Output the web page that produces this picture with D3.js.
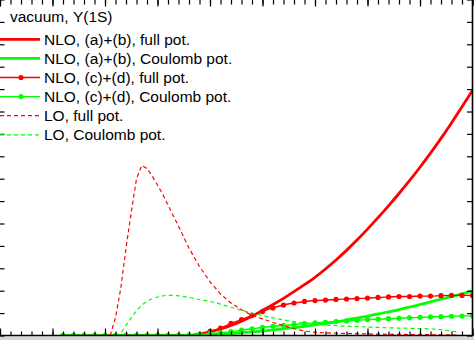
<!DOCTYPE html>
<html>
<head>
<meta charset="utf-8">
<script src="https://cdn.jsdelivr.net/npm/d3@7"></script>
<style>
  body { margin: 0; background: #fff; }
  svg { display: block; }
  text { font-family: "Liberation Sans", Arial, Helvetica, sans-serif; }
</style>
</head>
<body>
<svg id="chart" width="474" height="340"></svg>
<script>
// ---- data ----
// NLO curves share one grid (markers every 0.2)
const xNLO = [1.2, 1.4, 1.6, 1.8, 2.0, 2.2, 2.4, 2.6, 2.8, 3.0, 3.2, 3.4,
              3.6, 3.8, 4.0, 4.2, 4.4, 4.6, 4.8, 5.0, 5.2, 5.4, 5.6, 5.8,
              6.0, 6.2, 6.4, 6.6, 6.8, 7.0, 7.2, 7.4, 7.6, 7.8, 8.0, 8.2,
              8.4, 8.6, 8.8, 9.0];
const nloAbFull = [0, 0, 0, 0, 0, 0, 0, 0, 0, 0, 0, 0,
                   0.0, 0.06, 0.16, 0.29, 0.45, 0.64, 0.86, 1.12, 1.38, 1.66, 1.96, 2.27,
                   2.60, 2.97, 3.37, 3.80, 4.26, 4.75, 5.26, 5.79, 6.34, 6.91, 7.51, 8.14,
                   8.80, 9.49, 10.21, 10.94];
const nloAbCoulomb = [0, 0, 0, 0, 0, 0, 0, 0, 0, 0, 0, 0,
                      0.0, 0.02, 0.04, 0.065, 0.09, 0.12, 0.16, 0.20, 0.25, 0.30, 0.35, 0.41,
                      0.47, 0.54, 0.61, 0.69, 0.78, 0.87, 0.96, 1.06, 1.16, 1.27, 1.38, 1.50,
                      1.62, 1.74, 1.86, 1.98];
const nloCdFull = [0, 0, 0, 0, 0, 0, 0, 0, 0, 0, 0, 0,
                   0.0, 0.05, 0.18, 0.33, 0.54, 0.71, 0.89, 1.07, 1.23, 1.36, 1.45, 1.52,
                   1.56, 1.58, 1.61, 1.63, 1.65, 1.67, 1.70, 1.72, 1.74, 1.74, 1.76, 1.76,
                   1.78, 1.79, 1.79, 1.79];
const nloCdCoulomb = [0, 0, 0, 0, 0, 0, 0, 0, 0.01, 0.01, 0.01, 0.01,
                      0.02, 0.05, 0.08, 0.12, 0.17, 0.24, 0.30, 0.36, 0.41, 0.45, 0.49, 0.53,
                      0.56, 0.59, 0.62, 0.65, 0.68, 0.71, 0.73, 0.75, 0.77, 0.79, 0.81, 0.83,
                      0.84, 0.86, 0.87, 0.88];

// LO curves
const xLOFull = [2.1, 2.2, 2.3, 2.4, 2.5, 2.6, 2.7, 2.8, 2.9, 3.0, 3.1, 3.2, 3.3, 3.4,
                 3.6, 3.8, 4.0, 4.2, 4.4, 4.6, 4.8, 5.0, 5.2, 5.4, 5.6, 5.8, 6.0,
                 6.4, 6.8, 7.2, 7.6, 8.0, 8.4, 8.7];
const loFull = [0, 0.8, 2.1, 3.9, 5.5, 7.0, 7.59, 7.45, 7.12, 6.72, 6.3, 5.83, 5.35, 4.88,
                3.9, 3.08, 2.4, 1.85, 1.45, 1.15, 0.9, 0.74, 0.58, 0.44, 0.3, 0.2, 0.14,
                0.1, 0.08, 0.06, 0.05, 0.04, 0.03, 0.02];
const xLOCoulomb = [2.2, 2.3, 2.4, 2.5, 2.6, 2.7, 2.8, 2.9, 3.0, 3.1, 3.2, 3.3, 3.4,
                    3.6, 3.8, 4.0, 4.2, 4.4, 4.6, 4.8, 5.0, 5.2, 5.4, 5.6, 5.8, 6.0,
                    6.4, 6.8, 7.2, 7.6, 8.0, 8.4, 8.7];
const loCoulomb = [0, 0.12, 0.45, 0.8, 1.1, 1.35, 1.52, 1.64, 1.72, 1.77, 1.79, 1.79, 1.77,
                   1.70, 1.60, 1.52, 1.40, 1.26, 1.13, 1.01, 0.89, 0.79, 0.70, 0.62, 0.56, 0.51,
                   0.44, 0.40, 0.36, 0.33, 0.31, 0.26, 0.16];

const legendTitle = "vacuum, \u03A5(1S)";
const legendLabels = ["NLO, (a)+(b), full pot.", "NLO, (a)+(b), Coulomb pot.",
                      "NLO, (c)+(d), full pot.", "NLO, (c)+(d), Coulomb pot.",
                      "LO, full pot.", "LO, Coulomb pot."];

// ---- styles for each series ----
const RED = "#ff0000", GREEN = "#00ff00";
const series = [
  { x: xNLO, y: nloAbFull,    color: RED,   width: 2.8, dash: null,  marker: false, curve: d3.curveMonotoneX },
  { x: xNLO, y: nloAbCoulomb, color: GREEN, width: 2.8, dash: null,  marker: false, curve: d3.curveMonotoneX },
  { x: xNLO, y: nloCdFull,    color: RED,   width: 1.4, dash: null,  marker: true,  curve: d3.curveMonotoneX },
  { x: xNLO, y: nloCdCoulomb, color: GREEN, width: 1.4, dash: null,  marker: true,  curve: d3.curveMonotoneX },
  { x: xLOFull, y: loFull,       color: RED,   width: 1.2, dash: "4,3", marker: false, curve: d3.curveLinear },
  { x: xLOCoulomb, y: loCoulomb, color: GREEN, width: 1.2, dash: "4,3", marker: false, curve: d3.curveMonotoneX }
];

// ---- scales ----
const X0 = 0, X1 = 472.5, Y0 = 335.5, Y1 = -0.5;
const x = d3.scaleLinear().domain([0, 9]).range([X0, X1]);
const y = d3.scaleLinear().domain([0, 15]).range([Y0, Y1]);

const svg = d3.select("#chart");

// light strip below the bottom axis
svg.append("rect").attr("x", 0).attr("y", 336.5).attr("width", 474).attr("height", 4)
  .attr("fill", "#d6d6d6");

svg.append("defs").append("clipPath").attr("id", "plot")
  .append("rect").attr("x", X0).attr("y", Y1).attr("width", X1 - X0).attr("height", Y0 - Y1);

const plot = svg.append("g").attr("clip-path", "url(#plot)");

series.forEach(s => {
  const pts = s.x.map((v, i) => [v, s.y[i]]);
  const line = d3.line().x(d => x(d[0])).y(d => y(d[1])).curve(s.curve);
  plot.append("path").datum(pts)
    .attr("d", line)
    .attr("fill", "none")
    .attr("stroke", s.color)
    .attr("stroke-width", s.width)
    .attr("stroke-linejoin", "round")
    .attr("stroke-dasharray", s.dash);
  if (s.marker) {
    plot.append("g").selectAll("circle").data(pts).join("circle")
      .attr("cx", d => x(d[0])).attr("cy", d => y(d[1])).attr("r", 2.6)
      .attr("fill", s.color);
  }
});

// ---- axes (ticks pointing inward, no labels) ----
function styleAxis(g) {
  g.selectAll("text").remove();
  g.select(".domain").remove();
  g.selectAll("line").attr("stroke", "#000").attr("stroke-width", 1.2);
}
const xMinor = x.ticks(45), xMajor = x.ticks(9);
const yTicks = y.ticks(15);

svg.append("g").attr("transform", `translate(0,${Y0})`)
  .call(d3.axisBottom(x).tickValues(xMinor).tickSize(-4)).call(styleAxis);
svg.append("g").attr("transform", `translate(0,${Y0})`)
  .call(d3.axisBottom(x).tickValues(xMajor).tickSize(-7)).call(styleAxis);
svg.append("g").attr("transform", `translate(0,${Y1})`)
  .call(d3.axisTop(x).tickValues(xMinor).tickSize(-5)).call(styleAxis);
svg.append("g").attr("transform", `translate(0,${Y1})`)
  .call(d3.axisTop(x).tickValues(xMajor).tickSize(-7)).call(styleAxis);
svg.append("g").attr("transform", `translate(${X0},0)`)
  .call(d3.axisLeft(y).tickValues(yTicks).tickSize(-4.5)).call(styleAxis);
svg.append("g").attr("transform", `translate(${X1},0)`)
  .call(d3.axisRight(y).tickValues(yTicks).tickSize(-5.5)).call(styleAxis);

// frame
svg.append("line").attr("x1", X0).attr("x2", X1 + 0.8).attr("y1", Y0).attr("y2", Y0)
  .attr("stroke", "#000").attr("stroke-width", 1.6);
svg.append("line").attr("x1", X1).attr("x2", X1).attr("y1", Y1).attr("y2", Y0)
  .attr("stroke", "#000").attr("stroke-width", 1.6);

// ---- legend ----
const FS = 15.5;
const leg = svg.append("g");
leg.append("text").attr("x", 10).attr("y", 22).attr("font-size", FS).attr("fill", "#000")
  .text(legendTitle);
const rowY = d3.scaleLinear().domain([0, 5]).range([39.3, 134.8]);
series.forEach((s, i) => {
  const cy = rowY(i);
  leg.append("line").attr("x1", 0).attr("x2", 40).attr("y1", cy).attr("y2", cy)
    .attr("stroke", s.color).attr("stroke-width", s.width).attr("stroke-dasharray", s.dash);
  if (s.marker) {
    leg.append("circle").attr("cx", 21).attr("cy", cy).attr("r", 2.6).attr("fill", s.color);
  }
  leg.append("text").attr("x", 44).attr("y", cy + 5.5).attr("font-size", FS).attr("fill", "#000")
    .text(legendLabels[i]);
});
</script>
</body>
</html>
